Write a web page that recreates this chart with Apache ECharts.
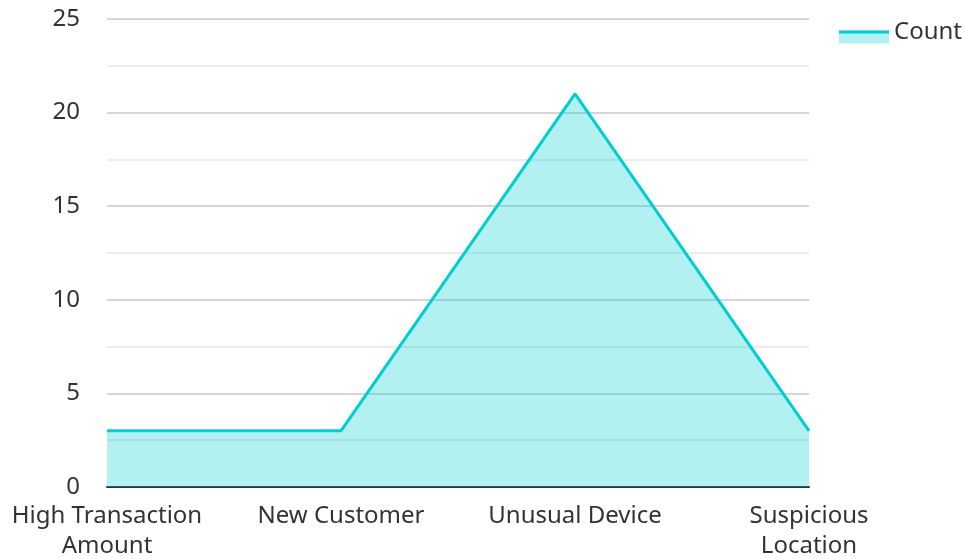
<!DOCTYPE html>
<html><head><meta charset="utf-8">
<script src="https://cdn.jsdelivr.net/npm/echarts@6/dist/echarts.min.js"></script>
<style>html,body{margin:0;padding:0;background:#fff}#c{width:966px;height:559px}</style>
</head><body><div id="c"></div>
<script>
const categories = ['High Transaction\nAmount', 'New Customer', 'Unusual Device', 'Suspicious\nLocation'];
const counts = [3, 3, 21, 3];
const seriesName = 'Count';
const chart = echarts.init(document.getElementById('c'));
const font = '"Noto Sans", "Open Sans", sans-serif';
const legendText = { fontSize: 24, color: '#333', fontFamily: font };
chart.setOption({
  animation: false,
  textStyle: { fontFamily: font },
  grid: { left: 107, right: 157, top: 19, bottom: 72, outerBoundsMode: 'none', containLabel: false },
  legend: [{
    data: [{ name: seriesName, icon: 'path://M0,0L50,0L50,0.01L0,0.01Z M0,10L50,10L50,23L0,23Z' }],
    right: 0, top: 16, padding: 4, itemWidth: 50, itemHeight: 23, itemGap: 10,
    itemStyle: { color: 'rgba(0,206,209,0.3)', borderWidth: 0 },
    textStyle: legendText, z: 4
  }, {
    data: [{ name: seriesName, icon: 'rect' }], right: 0, top: 16, padding: 4, itemWidth: 50, itemHeight: 3, itemGap: 10,
    itemStyle: { color: '#00ced1', borderWidth: 0 },
    textStyle: Object.assign({}, legendText, { color: 'rgba(0,0,0,0)' }), z: 5
  }],
  xAxis: {
    type: 'category', data: categories, boundaryGap: false,
    axisLine: { lineStyle: { color: '#333', width: 2 } },
    axisTick: { show: false },
    axisLabel: { fontSize: 24, color: '#333', margin: 14, lineHeight: 30, fontFamily: font, interval: 0 }
  },
  yAxis: {
    type: 'value', min: 0, max: 25, interval: 5,
    axisLine: { show: false }, axisTick: { show: false },
    axisLabel: { fontSize: 24, color: '#333', margin: 27, fontFamily: font },
    splitLine: { lineStyle: { color: '#c8c8c8', width: 1.5 } },
    minorTick: { show: false, splitNumber: 2 },
    minorSplitLine: { show: true, lineStyle: { color: '#e6e6e6', width: 1.5 } }
  },
  series: [{
    name: seriesName, type: 'line', data: counts, showSymbol: false,
    lineStyle: { color: '#00ced1', width: 3 }, itemStyle: { color: '#00ced1' },
    areaStyle: { color: 'rgba(0,206,209,0.3)', opacity: 1 }
  }]
});
</script></body></html>
